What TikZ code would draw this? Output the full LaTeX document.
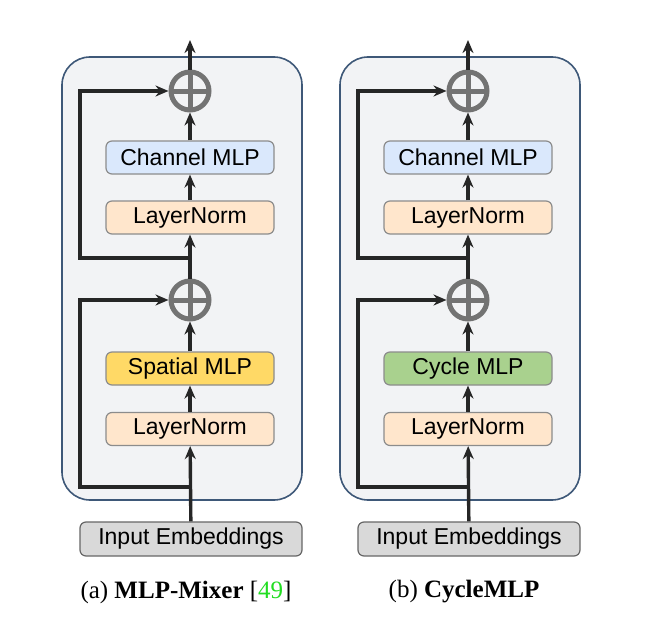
\documentclass[tikz,border=0pt]{standalone}
\usepackage{fontspec}
\setmainfont{Liberation Serif}
\newfontfamily\sansf{Liberation Sans}
\usetikzlibrary{arrows.meta}
\definecolor{cont}{HTML}{F2F3F5}
\definecolor{contb}{HTML}{3E5878}
\definecolor{blu}{HTML}{DAE8FC}
\definecolor{ora}{HTML}{FFE6CC}
\definecolor{yel}{HTML}{FFD966}
\definecolor{grn}{HTML}{A9D18E}
\definecolor{gry}{HTML}{D9D9D9}
\definecolor{cgreen}{HTML}{22DD22}
\tikzset{
 box/.style={draw=black!45,rounded corners=6pt,minimum width=168pt,minimum height=33pt,inner sep=0pt,font=\sansf\fontsize{23}{23}\selectfont,line width=1.2pt},
 plus/.style={circle,draw=black!55,line width=5pt,minimum size=38pt,inner sep=0pt,
   path picture={\draw[black!55,line width=5pt] (path picture bounding box.north)--(path picture bounding box.south) (path picture bounding box.west)--(path picture bounding box.east);}},
 ar/.style={-{Stealth[length=13pt,width=11pt]},line width=3.4pt,black!85},
}
\begin{document}
\begin{tikzpicture}[x=1pt,y=-1pt]
\useasboundingbox (0,0) rectangle (649,621);
\foreach \dx/\mid/\midc/\id in {0/Spatial MLP/yel/a,278/Cycle MLP/grn/b}{
\begin{scope}[xshift=\dx]
\fill[cont,draw=contb,line width=1.6pt,rounded corners=28pt] (62,57) rectangle (302,500);
\node[plus] (p2\id) at (190,91) {};
\node[box,fill=blu] (ch\id) at (190,157.5) {Channel MLP};
\node[box,fill=ora] (ln2\id) at (190,217.5) {LayerNorm};
\node[plus] (p1\id) at (190,300) {};
\node[box,fill=\midc] (mid\id) at (190,368.5) {\mid};
\node[box,fill=ora] (ln1\id) at (190,429) {LayerNorm};
\node[box,fill=gry,draw=black!60,minimum width=222pt,minimum height=34pt] (in\id) at (191,539) {Input Embeddings};
\coordinate (top\id) at (190,40);
\coordinate (j1\id) at (190,487);
\coordinate (k1\id) at (80,487);
\coordinate (j2\id) at (190,258);
\coordinate (k2\id) at (80,258);
\draw[ar] (in\id) -- (ln1\id);
\draw[ar] (ln1\id) -- (mid\id);
\draw[ar] (mid\id) -- (p1\id);
\draw[ar] (p1\id) -- (ln2\id);
\draw[ar] (ln2\id) -- (ch\id);
\draw[ar] (ch\id) -- (p2\id);
\draw[ar] (p2\id) -- (top\id);
\draw[ar] (j1\id) -- (k1\id) |- (p1\id);
\draw[ar] (j2\id) -- (k2\id) |- (p2\id);
\end{scope}}
\node[font=\fontsize{25}{25}\selectfont] (capa) at (186,592) {(a) \textbf{MLP-Mixer} [{\color{cgreen}49}]};
\node[font=\fontsize{25}{25}\selectfont] (capb) at (464,592) {(b) \textbf{CycleMLP}};
\end{tikzpicture}
\end{document}
